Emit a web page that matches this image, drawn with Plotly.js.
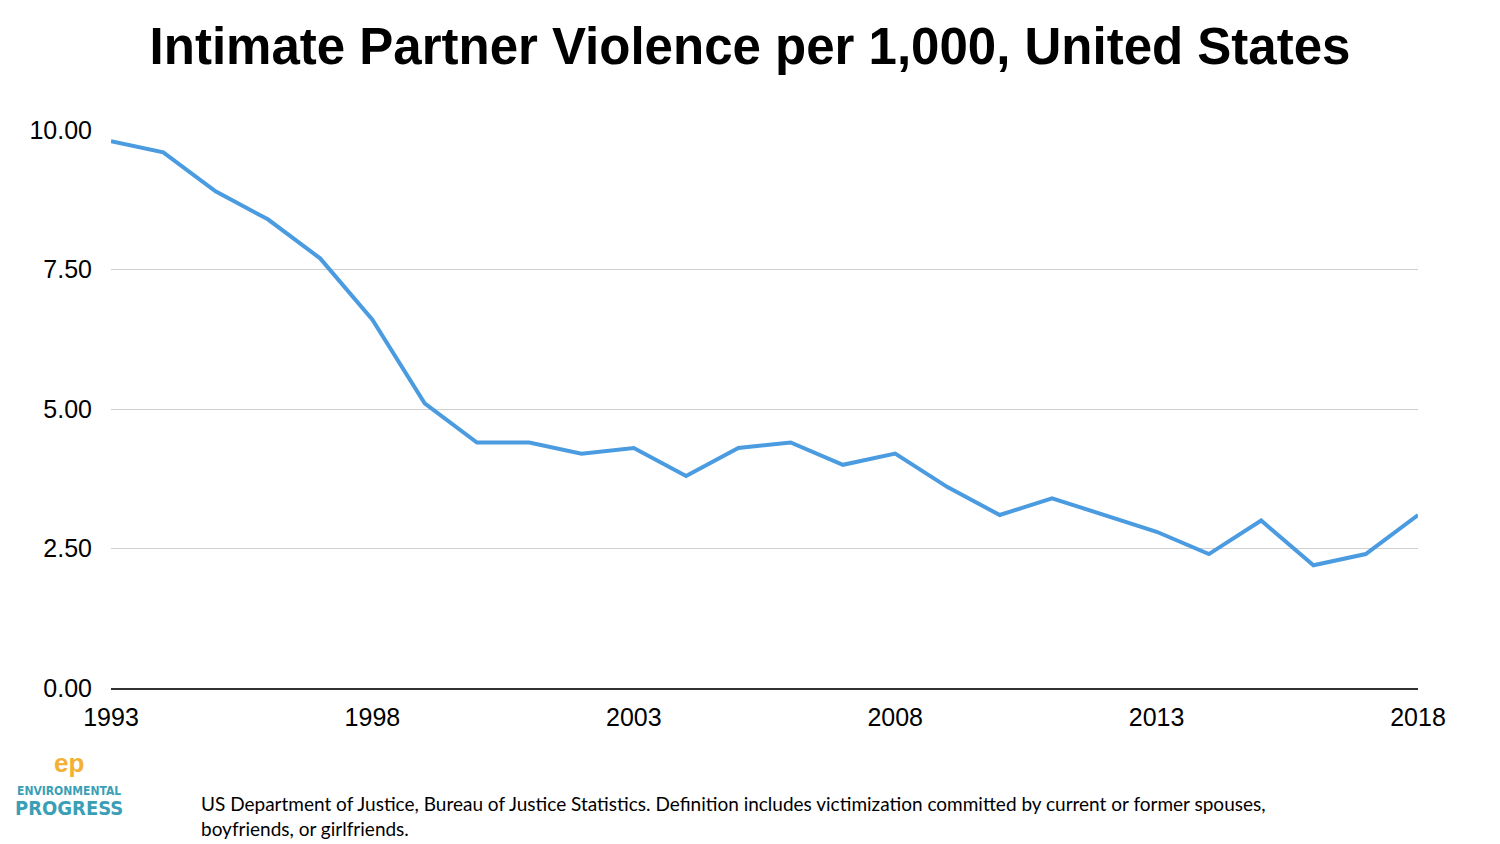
<!DOCTYPE html>
<html>
<head>
<meta charset="utf-8">
<script src="https://cdn.plot.ly/plotly-3.0.1.min.js"></script>
<style>body{margin:0;background:#fff}#plot{width:1500px;height:844px}</style>
</head>
<body>
<div id="plot"></div>
<script>
// values, rate per 1,000
const years = [1993, 1994, 1995, 1996, 1997, 1998, 1999, 2000, 2001, 2002, 2003, 2004, 2005,
  2006, 2007, 2008, 2009, 2010, 2011, 2012, 2013, 2014, 2015, 2016, 2017, 2018];
const rates = [9.8, 9.6, 8.9, 8.4, 7.7, 6.6, 5.1, 4.4, 4.4, 4.2, 4.3, 3.8, 4.3,
  4.4, 4.0, 4.2, 3.6, 3.1, 3.4, 3.1, 2.8, 2.4, 3.0, 2.2, 2.4, 3.1];
const yTicks = [0, 2.5, 5, 7.5, 10];
const xTicks = [1993, 1998, 2003, 2008, 2013, 2018];

const font = "Helvetica, Liberation Sans, Arial, sans-serif";
const logoFont = "DejaVu Sans Condensed, Liberation Sans Narrow, sans-serif";

const data = [{
  x: years,
  y: rates,
  mode: "lines",
  type: "scatter",
  line: {color: "#4a9be0", width: 4},
  hoverinfo: "x+y"
}];

const layout = {
  width: 1500,
  height: 844,
  margin: {l: 111, r: 82, t: 130, b: 156},
  paper_bgcolor: "#fff",
  plot_bgcolor: "#fff",
  showlegend: false,
  title: {
    text: "<b>Intimate Partner Violence per 1,000, United States</b>",
    font: {family: font, size: 51, color: "#000"},
    x: 0.5, xanchor: "center", y: 0.945, yanchor: "middle"
  },
  xaxis: {
    range: [1993, 2018],
    tickvals: xTicks,
    ticks: "",
    ticklabelstandoff: 6,
    showgrid: false,
    zeroline: false,
    showline: true,
    linecolor: "#333",
    linewidth: 1.5,
    tickfont: {family: font, size: 25, color: "#000"}
  },
  yaxis: {
    range: [0, 10],
    tickvals: yTicks,
    ticktext: yTicks.map(v => v.toFixed(2)),
    ticks: "",
    ticklabelstandoff: 18,
    showgrid: true,
    gridcolor: "#d0d0d0",
    zeroline: false,
    tickfont: {family: font, size: 25, color: "#000"}
  },
  annotations: [
    {
      xref: "paper", yref: "paper", x: 0, y: -0.182, xanchor: "left", yanchor: "top",
      xshift: 88, align: "left", showarrow: false,
      text: "US Department of Justice, Bureau of Justice Statistics. Definition includes victimization committed by current or former spouses,<br>boyfriends, or girlfriends.",
      font: {family: "Lato, Open Sans, sans-serif", size: 19, color: "#000"}
    },
    {
      xref: "paper", yref: "paper", x: 0, y: -0.135, xanchor: "center", yanchor: "middle",
      xshift: -42, showarrow: false,
      text: "<b>ep</b>", font: {family: font, size: 26, color: "#f2b134"}
    },
    {
      xref: "paper", yref: "paper", x: 0, y: -0.185, xanchor: "center", yanchor: "middle",
      xshift: -42, showarrow: false,
      text: "<b>ENVIRONMENTAL</b>",
      font: {family: logoFont, size: 12, color: "#3a9fb6"}
    },
    {
      xref: "paper", yref: "paper", x: 0, y: -0.215, xanchor: "center", yanchor: "middle",
      xshift: -42, showarrow: false,
      text: "<b>PROGRESS</b>",
      font: {family: logoFont, size: 20, color: "#3a9fb6"}
    }
  ]
};

Plotly.newPlot(document.getElementById("plot"), data, layout, {displayModeBar: false});
</script>
</body>
</html>
